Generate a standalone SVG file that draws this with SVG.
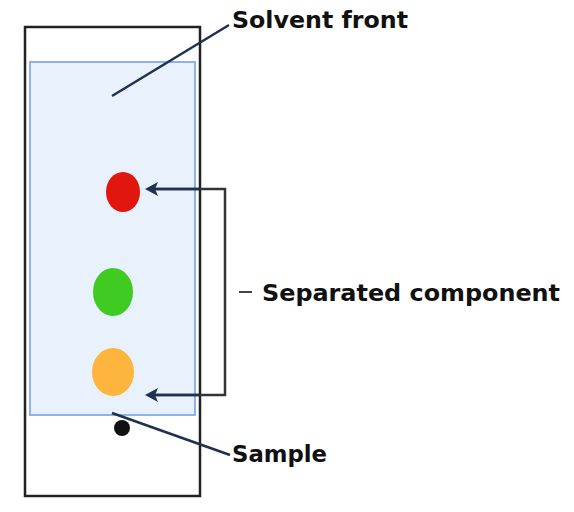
<svg xmlns="http://www.w3.org/2000/svg" width="574" height="512" viewBox="0 0 574 512">
<style>
.lbl{font-family:"DejaVu Sans","Liberation Sans",sans-serif;font-weight:bold;font-size:22.5px;fill:#111}
.ln{stroke:#1f3150;stroke-width:2.5;fill:none}
.conn{stroke:#333;stroke-width:2.5;fill:none}
</style>
<rect width="574" height="512" fill="#fff"/>
<g id="plate">
<rect x="25" y="27" width="175" height="469" fill="#fff" stroke="#222" stroke-width="2.5"/>
</g>
<g id="solvent">
<rect x="30" y="62" width="165" height="353" fill="#e9f2fc" stroke="#8fb2ee" stroke-width="2"/>
</g>
<g id="red-spot"><ellipse cx="123" cy="192" rx="17" ry="20" fill="#e1160e"/></g>
<g id="green-spot"><ellipse cx="113" cy="292" rx="20" ry="24" fill="#3fcb22"/></g>
<g id="orange-spot"><ellipse cx="113" cy="372" rx="21" ry="24" fill="#fdb53d"/></g>
<g id="sample-dot"><circle cx="122" cy="428" r="8" fill="#111"/></g>
<g id="connectors">
<line class="ln" x1="112" y1="96" x2="229" y2="25"/>
<line class="ln" x1="112" y1="413" x2="230" y2="455"/>
<polyline class="conn" points="155,189 225,189 225,395 155,395"/>
<line class="ln" x1="155" y1="189" x2="200" y2="189"/>
<line class="ln" x1="155" y1="395" x2="200" y2="395"/>
<path d="M145,189 L158,182 L155,189 L158,196 Z" fill="#1f3150"/>
<path d="M145,395 L158,388 L155,395 L158,402 Z" fill="#1f3150"/>
<line x1="239" y1="292" x2="252" y2="292" stroke="#444" stroke-width="2"/>
</g>
<g id="labels">
<text class="lbl" x="232" y="28" textLength="176" lengthAdjust="spacingAndGlyphs">Solvent front</text>
<text class="lbl" x="262" y="301" textLength="298" lengthAdjust="spacingAndGlyphs">Separated component</text>
<text class="lbl" x="232" y="462" textLength="95" lengthAdjust="spacingAndGlyphs">Sample</text>
</g>
</svg>
